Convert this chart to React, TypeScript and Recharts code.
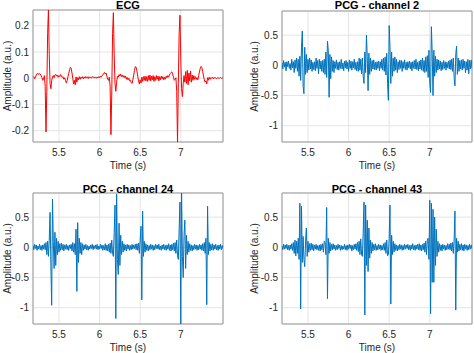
import React from 'react';
import { LineChart, Line, XAxis, YAxis, CartesianGrid, ReferenceArea } from 'recharts';

const T0 = 5.18;
const DT = 0.01;
const timeTicks = [5.5, 6, 6.5, 7];
const timeDomain: [number, number] = [5.18, 7.52];
const ecgTicks = [-0.2, -0.1, 0, 0.1, 0.2];
const ecgDomain: [number, number] = [-0.243, 0.26];
const pcgTicks = [-1, -0.5, 0, 0.5];
const pcgDomain: [number, number] = [-1.27, 0.9];

const titles = ['ECG', 'PCG - channel 2', 'PCG - channel 24', 'PCG - channel 43'];

// ECG samples, every 0.01 s from 5.18 s
const ecg = [
  0.003, 0.006, -0.002, 0.004, 0.012, 0.017, 0.019, 0.014, 0.018, 0.016,
  0.010, 0.002, -0.008, -0.004, 0.010, -0.030, -0.205, -0.050, 0.170, 0.260,
  0.090, -0.020, -0.040, -0.010, 0.005, 0.010, 0.002, 0.012, 0.015, 0.008,
  0.012, 0.004, 0.010, 0.006, 0.014, 0.008, 0.003, 0.006, -0.004, 0.002,
  -0.008, -0.018, -0.010, 0.005, 0.018, 0.032, 0.042, 0.038, 0.020, 0.000,
  -0.022, -0.008, -0.025, 0.005, -0.015, 0.002, -0.006, 0.006, -0.004, 0.004,
  0.000, 0.006, -0.002, 0.005, 0.000, 0.007, 0.002, 0.005, -0.001, 0.006,
  0.002, 0.004, 0.000, 0.006, 0.003, 0.005, 0.001, 0.004, 0.000, 0.005,
  0.001, 0.006, 0.002, 0.008, 0.004, 0.010, 0.012, 0.018, 0.022, 0.016,
  0.020, 0.008, -0.005, -0.008, 0.004, -0.030, -0.215, -0.060, 0.170, 0.250,
  0.090, -0.020, -0.050, -0.015, 0.008, 0.004, 0.014, 0.008, 0.016, 0.006,
  0.012, 0.004, 0.010, 0.002, 0.008, -0.004, 0.003, -0.006, 0.000, -0.010,
  -0.008, -0.016, -0.020, -0.006, 0.012, 0.030, 0.044, 0.042, 0.028, 0.008,
  -0.010, -0.022, -0.006, -0.018, 0.004, -0.012, 0.006, -0.008, 0.008, -0.010,
  0.006, -0.012, 0.010, -0.008, 0.012, -0.010, 0.008, -0.006, 0.010, -0.012,
  0.006, -0.008, 0.010, -0.004, 0.008, -0.010, 0.006, -0.006, 0.008, -0.002,
  0.006, -0.006, 0.004, -0.004, 0.008, 0.002, 0.010, 0.004, 0.012, 0.018,
  0.022, 0.024, 0.016, 0.004, -0.008, -0.004, 0.002, -0.050, -0.250, -0.020,
  0.170, 0.240, 0.070, -0.040, -0.070, -0.020, 0.010, -0.015, 0.025, -0.020,
  0.030, -0.025, 0.020, -0.010, 0.028, -0.015, 0.012, -0.008, 0.010, -0.004,
  0.006, -0.005, 0.002, -0.006, 0.010, 0.024, 0.038, 0.045, 0.040, 0.025,
  0.008, -0.006, -0.015, -0.010, -0.022, 0.002, -0.008, 0.004, -0.004, 0.002,
  0.000, 0.004, -0.002, 0.003, 0.000, 0.002, -0.002, 0.001, 0.000, 0.002,
  0.000, 0.003, -0.001, 0.002, 0.000,
];

// PCG channel 2
const pcg2 = [
  0.04, -0.06, 0.08, -0.03, 0.05, -0.09, 0.06, -0.02, 0.07, -0.05,
  0.03, -0.08, 0.10, -0.04, 0.06, -0.12, 0.09, -0.05, 0.12, -0.10,
  0.10, -0.18, 0.15, -0.25, 0.30, 0.57, -0.35, -0.47, 0.30, -0.15,
  0.18, -0.12, 0.10, -0.08, 0.12, -0.06, 0.09, -0.10, 0.05, -0.07,
  0.06, -0.09, 0.12, -0.05, 0.08, -0.14, 0.10, -0.06, 0.07, -0.10,
  0.08, -0.12, 0.10, -0.15, 0.22, -0.20, 0.40, 0.25, -0.53, 0.18,
  -0.22, 0.14, -0.10, 0.08, -0.12, 0.06, -0.05, 0.09, -0.07, 0.05,
  -0.08, 0.06, -0.05, 0.10, -0.06, 0.04, -0.09, 0.07, -0.04, 0.08,
  -0.06, 0.05, -0.10, 0.09, -0.05, 0.07, -0.08, 0.06, -0.04, 0.10,
  -0.07, 0.05, -0.09, 0.06, -0.10, 0.12, -0.08, 0.10, -0.14, 0.12,
  -0.18, -0.30, 0.22, -0.12, 0.50, 0.15, -0.42, 0.20, -0.15, 0.12,
  -0.10, 0.08, -0.06, 0.09, -0.07, 0.05, -0.08, 0.06, -0.05, 0.07,
  -0.09, 0.06, -0.05, 0.10, -0.08, 0.12, -0.10, 0.14, -0.16, 0.20,
  -0.30, -0.58, 0.66, 0.30, -0.30, 0.22, -0.18, 0.12, -0.10, 0.14,
  -0.08, 0.10, -0.12, 0.06, -0.07, 0.09, -0.05, 0.08, -0.10, 0.06,
  -0.05, 0.09, -0.07, 0.05, -0.08, 0.06, -0.04, 0.07, -0.06, 0.05,
  -0.09, 0.06, -0.05, 0.08, -0.06, 0.10, -0.07, 0.05, -0.09, 0.07,
  -0.06, 0.09, -0.08, 0.12, -0.10, 0.08, -0.12, 0.14, -0.10, 0.16,
  -0.20, 0.25, -0.30, -0.45, 0.64, 0.20, -0.50, 0.25, -0.18, 0.15,
  -0.12, 0.10, -0.08, 0.09, -0.06, 0.07, -0.09, 0.05, -0.07, 0.08,
  -0.05, 0.06, -0.08, 0.05, -0.04, 0.07, -0.06, 0.09, -0.07, 0.10,
  -0.10, 0.12, -0.20, -0.34, 0.18, 0.32, -0.15, 0.12, -0.10, 0.08,
  -0.06, 0.09, -0.08, 0.10, -0.05, 0.07, -0.12, 0.06, -0.08, 0.10,
  -0.14, 0.08, -0.06, 0.09, -0.05,
];

// PCG channel 24
const pcg24 = [
  0.03, -0.04, 0.05, -0.02, 0.04, -0.05, 0.02, -0.03, 0.05, -0.04,
  0.03, -0.05, 0.04, -0.03, 0.06, -0.04, 0.08, -0.12, 0.10, -0.15,
  0.12, 0.58, -0.30, -0.96, 0.80, 0.10, -0.35, 0.25, -0.30, 0.15,
  -0.12, 0.10, -0.08, 0.06, -0.05, 0.07, -0.04, 0.05, -0.06, 0.04,
  -0.03, 0.05, -0.04, 0.03, -0.05, 0.04, -0.02, 0.05, -0.06, 0.08,
  -0.08, 0.06, -0.12, 0.30, -0.73, 0.41, -0.25, 0.15, -0.10, 0.08,
  -0.12, 0.06, -0.05, 0.04, -0.03, 0.05, -0.04, 0.03, -0.05, 0.02,
  -0.03, 0.04, -0.02, 0.05, -0.04, 0.03, -0.02, 0.04, -0.03, 0.05,
  -0.04, 0.02, -0.03, 0.05, -0.02, 0.04, -0.05, 0.03, -0.04, 0.06,
  -0.05, 0.04, -0.06, 0.05, -0.08, 0.07, -0.10, 0.12, -0.10, -0.15,
  0.25, 0.70, -1.18, 0.88, -0.20, -0.45, 0.40, -0.30, 0.20, -0.12,
  0.10, -0.08, 0.06, -0.05, 0.04, -0.06, 0.05, -0.03, 0.04, -0.05,
  0.03, -0.04, 0.05, -0.03, 0.04, -0.02, 0.05, -0.04, 0.06, -0.05,
  0.07, -0.10, 0.12, 0.35, -0.87, 0.60, -0.15, 0.10, -0.08, 0.06,
  -0.05, 0.04, -0.06, 0.03, -0.04, 0.05, -0.03, 0.04, -0.05, 0.03,
  -0.04, 0.05, -0.02, 0.04, -0.03, 0.05, -0.04, 0.02, -0.05, 0.04,
  -0.03, 0.05, -0.04, 0.03, -0.05, 0.04, -0.03, 0.06, -0.05, 0.04,
  -0.06, 0.05, -0.04, 0.07, -0.06, 0.08, -0.10, 0.12, -0.14, -0.20,
  0.30, 0.75, -1.30, 0.92, -0.15, -0.50, 0.20, 0.45, -0.35, 0.20,
  -0.12, 0.10, -0.08, 0.06, -0.05, 0.04, -0.06, 0.03, -0.04, 0.05,
  -0.03, 0.04, -0.05, 0.03, -0.04, 0.05, -0.03, 0.04, -0.05, 0.06,
  -0.06, 0.08, -0.10, 0.15, -0.95, 0.68, -0.12, 0.08, -0.06, 0.05,
  -0.04, 0.06, -0.05, 0.04, -0.03, 0.05, -0.04, 0.03, -0.05, 0.04,
  -0.03, 0.05, -0.04, 0.03, -0.02,
];

// PCG channel 43
const pcg43 = [
  0.02, -0.04, 0.05, -0.03, 0.04, -0.02, 0.05, -0.04, 0.03, -0.05,
  0.04, -0.03, 0.06, -0.05, 0.08, -0.10, 0.12, -0.14, 0.10, -0.10,
  0.15, -0.20, 0.73, -1.02, 0.68, -0.25, 0.18, -0.20, -0.32, 0.10,
  0.32, -0.15, 0.10, -0.08, 0.06, -0.05, 0.07, -0.04, 0.05, -0.06,
  0.04, -0.03, 0.05, -0.04, 0.03, -0.05, 0.04, -0.06, 0.05, -0.04,
  0.06, -0.08, 0.10, 0.08, -0.12, 0.66, -0.85, 0.15, -0.10, 0.08,
  -0.06, 0.05, -0.04, 0.06, -0.03, 0.04, -0.05, 0.03, -0.04, 0.05,
  -0.02, 0.04, -0.05, 0.03, -0.04, 0.02, -0.03, 0.05, -0.04, 0.03,
  -0.05, 0.04, -0.03, 0.05, -0.02, 0.04, -0.06, 0.03, -0.04, 0.05,
  -0.03, 0.06, -0.05, 0.08, -0.07, 0.10, -0.12, 0.14, -0.12, -0.15,
  0.25, 0.75, -1.12, 0.70, -0.30, 0.45, -0.40, 0.32, -0.18, 0.12,
  -0.10, 0.08, -0.06, 0.05, -0.04, 0.06, -0.05, 0.03, -0.04, 0.05,
  -0.03, 0.04, -0.05, 0.03, -0.04, 0.06, -0.05, 0.08, -0.10, 0.12,
  -0.14, -0.12, 0.15, 0.70, -0.94, 0.20, -0.12, 0.10, -0.08, 0.06,
  -0.05, 0.04, -0.06, 0.03, -0.04, 0.05, -0.03, 0.04, -0.05, 0.03,
  -0.04, 0.05, -0.03, 0.04, -0.02, 0.05, -0.04, 0.03, -0.05, 0.04,
  -0.03, 0.06, -0.04, 0.03, -0.05, 0.04, -0.03, 0.05, -0.04, 0.06,
  -0.05, 0.04, -0.06, 0.05, -0.04, 0.07, -0.08, 0.10, -0.12, 0.12,
  0.15, -0.20, 0.78, -1.10, 0.73, -0.58, 0.63, -0.58, 0.50, -0.30,
  0.30, -0.15, 0.10, -0.08, 0.06, -0.05, 0.04, -0.06, 0.05, -0.03,
  0.04, -0.05, 0.03, -0.04, 0.06, -0.03, 0.05, -0.04, 0.07, -0.06,
  0.08, -0.10, 0.12, 0.60, -1.04, 0.15, -0.08, 0.10, -0.06, 0.05,
  -0.04, 0.06, -0.05, 0.04, -0.06, 0.05, -0.03, 0.04, -0.05, 0.03,
  -0.04, 0.05, -0.03, 0.04, -0.02,
];

const FONT = '"Liberation Sans", Arial, Helvetica, sans-serif';
const TEXT = '#262626';

type PanelProps = {
  left: number; top: number; width: number; height: number;
  margin: { top: number; right: number; bottom: number; left: number };
  yAxisWidth: number; title: string; titleTop: number;
  values: number[]; color: string; yDomain: [number, number]; yTicks: number[];
};

function Panel(p: PanelProps) {
  const data = p.values.map((v, i) => ({ t: +(T0 + i * DT).toFixed(2), v }));
  const plotLeft = p.margin.left + p.yAxisWidth;
  const plotRight = p.width - p.margin.right;
  return (
    <div style={{ position: 'absolute', left: p.left, top: p.top, width: p.width, height: p.height }}>
      <LineChart width={p.width} height={p.height} data={data} margin={p.margin}>
        <CartesianGrid stroke="#e4e4e4" strokeWidth={1} />
        <XAxis
          dataKey="t" type="number" domain={timeDomain} ticks={timeTicks} allowDataOverflow
          height={30} axisLine={false} tickLine={false} tickSize={3} tickMargin={4}
          tick={{ fontSize: 10, fill: TEXT }}
          label={{ value: 'Time (s)', position: 'insideBottom', offset: 3, fontSize: 10, fill: TEXT }}
        />
        <YAxis
          type="number" domain={p.yDomain} ticks={p.yTicks} allowDataOverflow
          width={p.yAxisWidth} axisLine={false} tickLine={false} tickSize={2} tickMargin={2}
          tick={{ fontSize: 10, fill: TEXT }}
          label={{ value: 'Amplitude (a.u.)', angle: -90, position: 'insideLeft', offset: 5, fontSize: 10, fill: TEXT, style: { textAnchor: 'middle' } }}
        />
        <Line type="linear" dataKey="v" stroke={p.color} strokeWidth={1} dot={false} isAnimationActive={false} />
        <ReferenceArea x1={timeDomain[0]} x2={timeDomain[1]} y1={p.yDomain[0]} y2={p.yDomain[1]} fill="none" fillOpacity={0} stroke="#9a9a9a" strokeWidth={1} strokeOpacity={1} />
      </LineChart>
      <div style={{ position: 'absolute', left: plotLeft, width: plotRight - plotLeft, top: p.titleTop, textAlign: 'center', fontWeight: 'bold', fontSize: 11, lineHeight: '11px', color: '#000', whiteSpace: 'nowrap' }}>
        {p.title}
      </div>
    </div>
  );
}

export default function App() {
  return (
    <div style={{ position: 'absolute', left: 0, top: 0, width: 474, height: 353, overflow: 'hidden', background: '#fff', fontFamily: FONT }}>
      <Panel left={0} top={0} width={237} height={176} margin={{ top: 10, right: 14, bottom: 4, left: 2 }} yAxisWidth={31}
        title={titles[0]} titleTop={0} values={ecg} color="#ff0000" yDomain={ecgDomain} yTicks={ecgTicks} />
      <Panel left={237} top={0} width={237} height={176} margin={{ top: 11, right: 2, bottom: 4, left: 12 }} yAxisWidth={33}
        title={titles[1]} titleTop={0} values={pcg2} color="#0072bd" yDomain={pcgDomain} yTicks={pcgTicks} />
      <Panel left={0} top={176} width={237} height={180} margin={{ top: 17, right: 14, bottom: 2, left: 2 }} yAxisWidth={31}
        title={titles[2]} titleTop={8} values={pcg24} color="#0072bd" yDomain={pcgDomain} yTicks={pcgTicks} />
      <Panel left={237} top={176} width={237} height={180} margin={{ top: 17, right: 2, bottom: 2, left: 12 }} yAxisWidth={33}
        title={titles[3]} titleTop={8} values={pcg43} color="#0072bd" yDomain={pcgDomain} yTicks={pcgTicks} />
    </div>
  );
}
